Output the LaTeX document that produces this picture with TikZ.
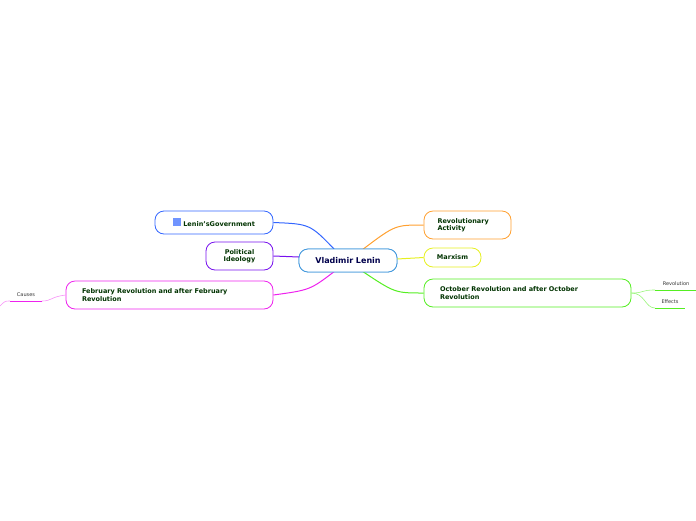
\documentclass[tikz,border=0pt]{standalone}
\usepackage{fontspec}
\setmainfont{DejaVu Sans}
\begin{document}
\begin{tikzpicture}[x=1pt,y=-1pt,
 box/.style={draw,rounded corners=9pt,line width=0.8pt,minimum height=#1,inner sep=0pt,font=\bfseries\fontsize{6.5}{7.5}\selectfont,text=green!20!black,fill=white},
 sub/.style={font=\fontsize{5}{6}\selectfont,text=black!80,inner sep=1pt}]
\useasboundingbox (0,0) rectangle (696,520);
\definecolor{cB}{HTML}{3366FF}\definecolor{cP}{HTML}{7711EE}\definecolor{cM}{HTML}{EE22EE}
\definecolor{cO}{HTML}{FFA030}\definecolor{cY}{HTML}{E6F020}\definecolor{cG}{HTML}{55EE22}\definecolor{cC}{HTML}{4499DD}
% connectors first
\coordinate (cen) at (348,260);
\node[box=23pt,draw=cC,minimum width=98pt,font=\bfseries\fontsize{8}{9}\selectfont,text=blue!30!black] (c) at (348,260.5) {Vladimir Lenin};
\node[box=23pt,draw=cB,minimum width=118pt] (g) at (214,222.5) {\textcolor{cB!70}{\rule{8pt}{8pt}}\ Lenin'sGovernment};
\node[box=28pt,draw=cP,minimum width=67pt,align=center] (p) at (239.5,256) {Political\\Ideology};
\node[box=28pt,draw=cM,minimum width=207pt,align=left,text width=175pt] (f) at (169.5,295) {February Revolution and after February\\Revolution};
\node[box=28pt,draw=cO,minimum width=87pt,align=left,text width=60pt] (r) at (467.5,225) {Revolutionary\\Activity};
\node[box=19pt,draw=cY,minimum width=57pt] (m) at (452.5,257.5) {Marxism};
\node[box=28pt,draw=cG,minimum width=207pt,align=left,text width=175pt] (o) at (527.5,293) {October Revolution and after October\\Revolution};
\node[sub] (ca) at (26,295) {Causes};
\node[sub] (rv) at (676,284) {Revolution};
\node[sub] (ef) at (670,302) {Effects};
\coordinate (ca1) at (42,301);\coordinate (ca0) at (10,301);\coordinate (cx) at (0,306);
\coordinate (rv0) at (655,290);\coordinate (rv1) at (696,290);
\coordinate (ef0) at (655,308);\coordinate (ef1) at (685,308);
\begin{scope}[on background layer/.style={}]
\end{scope}
\draw[cB,line width=1pt] (g.east) .. controls (310,224) .. (335,250);
\draw[cP,line width=1pt] (p.east) -- (299,257);
\draw[cM,line width=1pt] (f.east) .. controls (310,290) .. (335,271);
\draw[cO,line width=1pt] (r.west) .. controls (395,225) .. (362,250);
\draw[cY,line width=1pt] (m.west) -- (397,259);
\draw[cG,line width=1pt] (o.west) .. controls (395,293) .. (362,271);
\draw[cM!50,line width=0.6pt] (f.west) .. controls (50,297) and (52,301) .. (ca1);
\draw[cM,line width=1pt] (ca1) -- (ca0);
\draw[cM!50,line width=0.6pt] (ca0) .. controls (5,301) .. (cx);
\draw[cG!60,line width=0.6pt] (o.east) .. controls (645,293) and (640,290) .. (rv0);
\draw[cG!60,line width=0.6pt] (o.east) .. controls (645,293) and (645,308) .. (ef0);
\draw[cG,line width=1pt] (rv0) -- (rv1);
\draw[cG,line width=1pt] (ef0) -- (ef1);
% redraw nodes on top
\node[box=23pt,draw=cC,minimum width=98pt,font=\bfseries\fontsize{8}{9}\selectfont,text=blue!30!black] at (348,260.5) {Vladimir Lenin};
\end{tikzpicture}
\end{document}
